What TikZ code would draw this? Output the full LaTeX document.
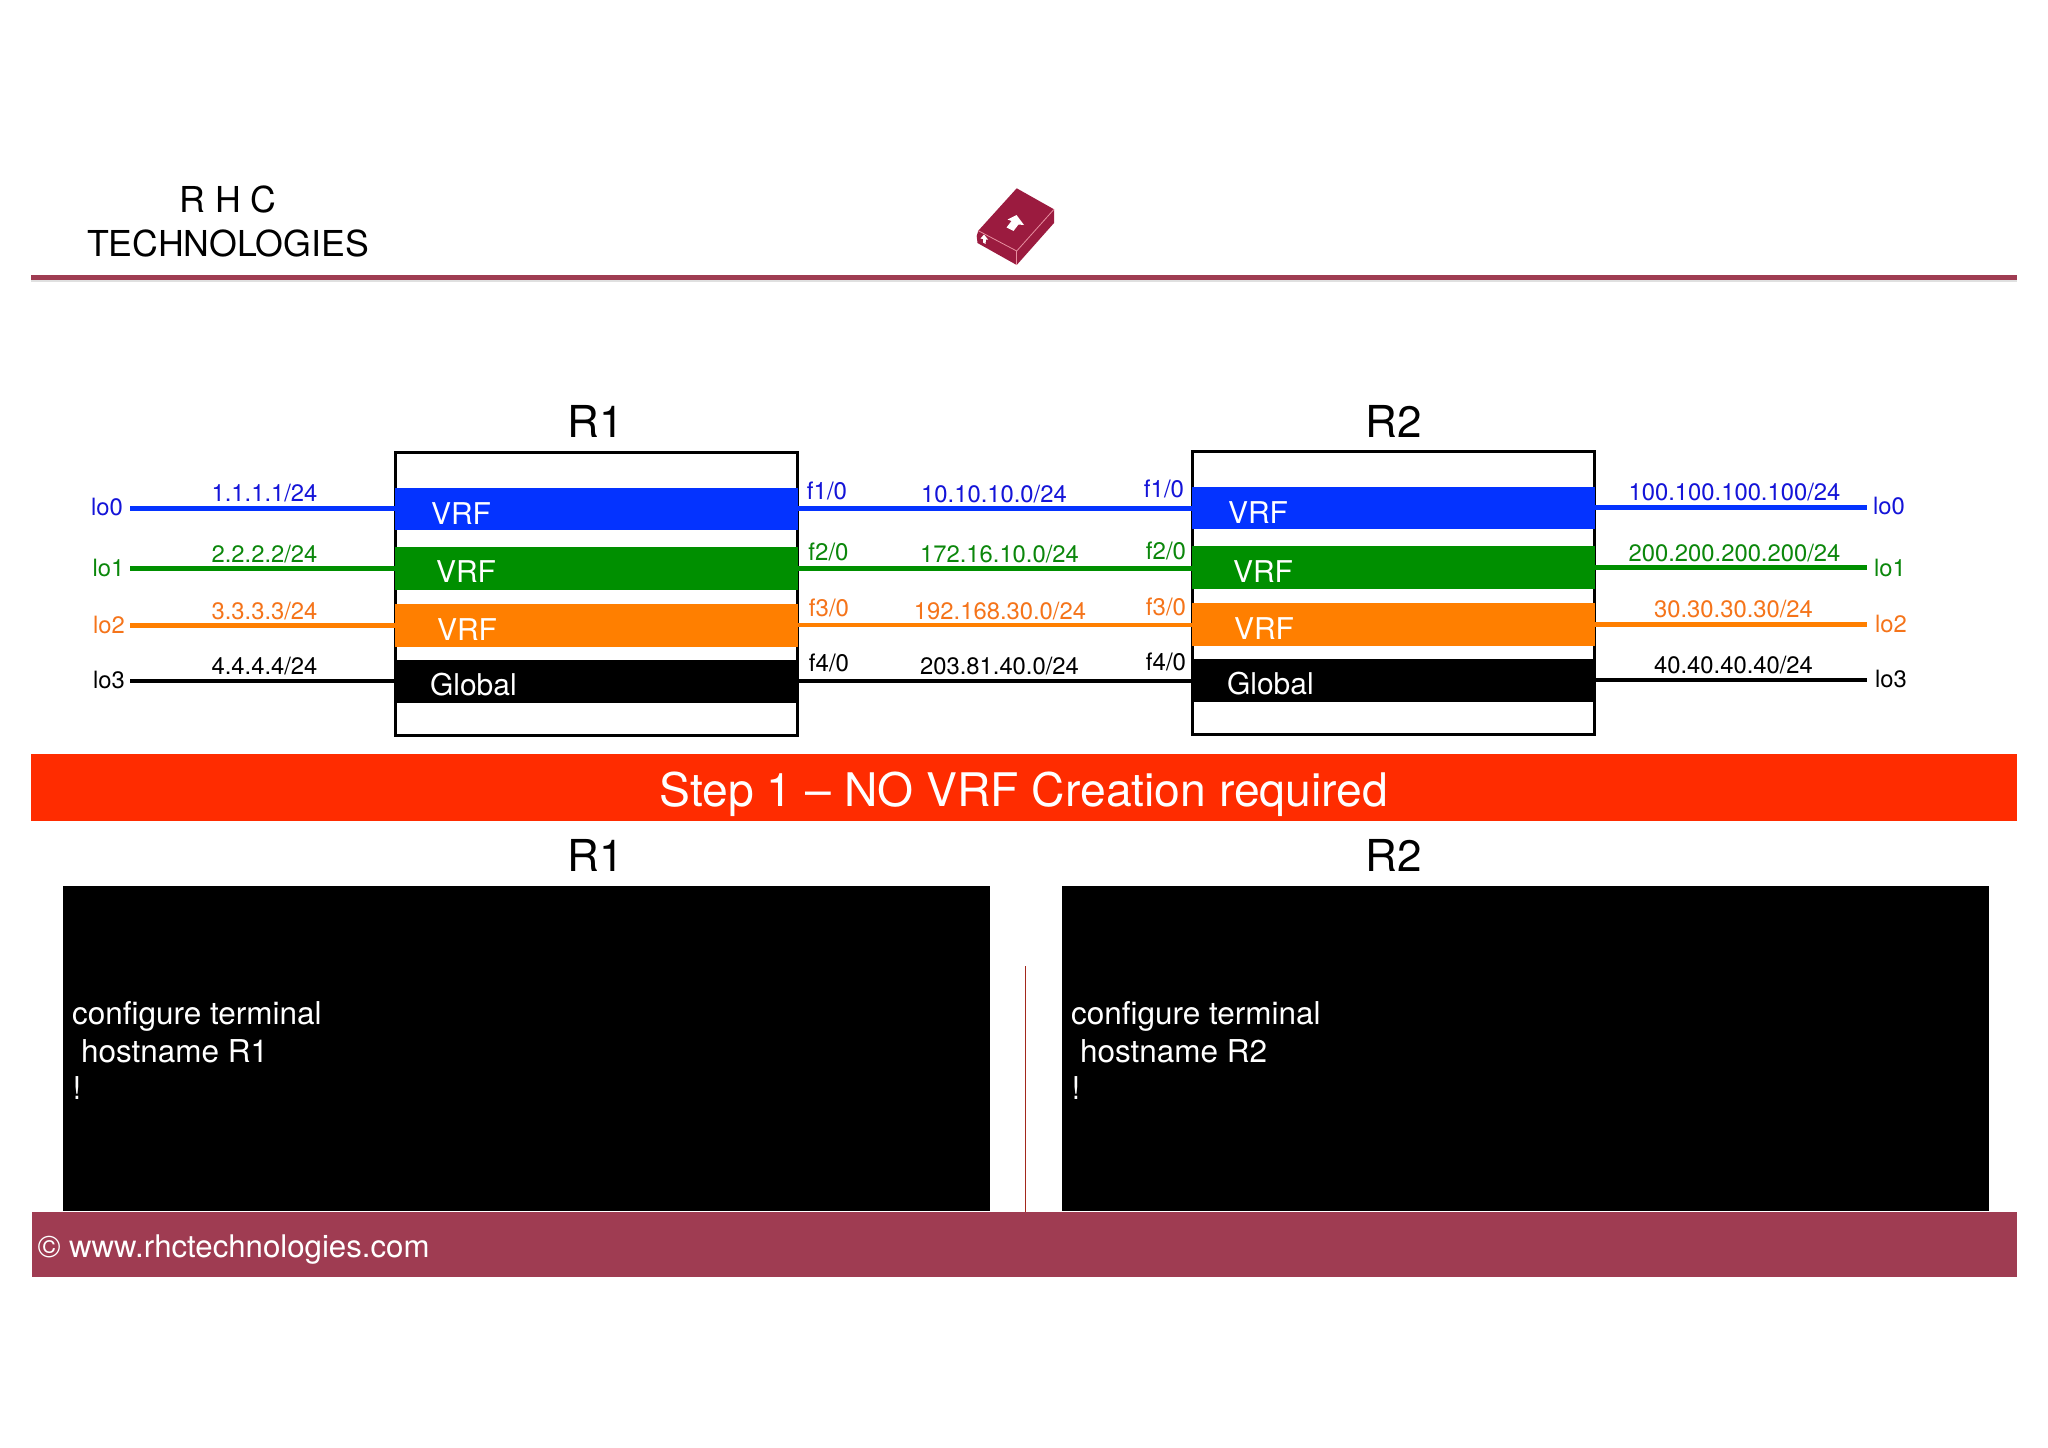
\documentclass[tikz,border=0pt]{standalone}
\usepackage{fontspec}
\setmainfont{TeX Gyre Heros}
\definecolor{cblue}{HTML}{0433FF}
\definecolor{cgreen}{HTML}{008F00}
\definecolor{corange}{HTML}{FF7F00}
\definecolor{tblue}{HTML}{1414D8}
\definecolor{tgreen}{HTML}{0B870B}
\definecolor{torange}{HTML}{F5741A}
\definecolor{cred}{HTML}{FF2C00}
\definecolor{cwine}{HTML}{9F3C52}
\definecolor{cbook}{HTML}{9B1B3F}
\definecolor{cpink}{HTML}{E88FA0}
\definecolor{cdiv}{HTML}{A3281C}
\tikzset{
  txt/.style={inner sep=0pt, outer sep=0pt, font=\fontsize{#1}{#1}\selectfont, text height={0.72*#1pt}, text depth=0pt},
  lab/.style={txt=23.8},
  ifc/.style={txt=24},
  band/.style={fill=#1, draw=none, inner sep=0pt, outer sep=0pt},
  wire/.style={draw=#1, line width=4.5pt, line cap=butt},
  rbox/.style={draw=black, line width=3pt, fill=white, inner sep=0pt, outer sep=0pt},
  term/.style={fill=black, inner sep=0pt, outer sep=0pt},
  bar/.style={fill=#1, inner sep=0pt, outer sep=0pt},
  bandtxt/.style={txt=30, text=white, anchor=west},
  cli/.style={txt=31.5, text=white, anchor=west}
}
\newcommand{\bandnode}[6]{% name colour x1 y1 x2 y2
  \node[band=#2, minimum width={#5pt-#3pt}, minimum height={#6pt-#4pt}, anchor=north west] (#1) at (#3,#4) {};
}
\begin{document}
\begin{tikzpicture}[x=1pt,y=-1pt]
\useasboundingbox (0,0) rectangle (2048,1448);
\fill[white] (0,0) rectangle (2048,1448);

% header
\node[txt=35.7] (rhc) at (228,200) {R H C};
\node[txt=35.7] (tech) at (228,243.5) {TECHNOLOGIES};
\coordinate (ruleL) at (31,277);
\coordinate (ruleR) at (2017,277);
\draw[black!12, line width=2pt] ([yshift=-3.5pt]ruleL) -- ([yshift=-3.5pt]ruleR);
\draw[cwine, line width=5pt] (ruleL) -- (ruleR);

% book logo
\fill[cbook] (1016.7,188.3) -- (1054,209.3) -- (1054,223) -- (1016.7,265) -- (977.5,243) -- (976.7,236) -- (978.3,230.7) -- cycle;
\draw[cpink, line width=0.8pt] (978.3,230.7) -- (1016.7,251) -- (1054,209.3);
\draw[cpink, line width=0.8pt] (1016.7,251) -- (1016.7,265);
\fill[white] (1016.5,215) -- (1024,225) -- (1018.5,224.5) -- (1013.5,231) -- (1006.5,227.5) -- (1011.5,221) -- (1007.5,219.5) -- cycle;
\fill[white] (984,234.5) -- (988,239.5) -- (986,239.5) -- (985.5,244) -- (983,242.5) -- (983,239) -- (980.5,238.5) -- cycle;

% router boxes
\node[rbox, minimum width=402pt, minimum height=282.5pt, anchor=north west] (boxA) at (395.5,452.5) {};
\node[rbox, minimum width=402pt, minimum height=282.5pt, anchor=north west] (boxB) at (1192.5,451.5) {};
\node[txt=44] (titleA) at (596,421.5) {R1};
\node[txt=44] (titleB) at (1393.5,422) {R2};

% R1 bands
\bandnode{aBlue}{cblue}{395}{488}{798}{529.5}
\bandnode{aGreen}{cgreen}{395}{547}{798}{589.5}
\bandnode{aOrange}{corange}{395}{604}{798}{646.5}
\bandnode{aBlack}{black}{395}{660}{798}{702.5}
% R2 bands
\bandnode{bBlue}{cblue}{1191.5}{487}{1595}{528.5}
\bandnode{bGreen}{cgreen}{1191.5}{546}{1595}{588.5}
\bandnode{bOrange}{corange}{1191.5}{603}{1595}{645.5}
\bandnode{bBlack}{black}{1191.5}{659}{1595}{701.5}

\node[bandtxt] (v1) at (431,514) {VRF};
\node[bandtxt] (v2) at (436,572) {VRF};
\node[bandtxt] (v3) at (437,630) {VRF};
\node[bandtxt] (g1) at (430,685) {Global};
\node[bandtxt] (v4) at (1228,513) {VRF};
\node[bandtxt] (v5) at (1233,572) {VRF};
\node[bandtxt] (v6) at (1234,629) {VRF};
\node[bandtxt] (g2) at (1227,684) {Global};

% free ends
\coordinate (lA0) at (130,508.5);
\coordinate (lA1) at (130,568.5);
\coordinate (lA2) at (130,625.5);
\coordinate (lA3) at (130,681);
\coordinate (lB0) at (1867,507.5);
\coordinate (lB1) at (1867,567.5);
\coordinate (lB2) at (1867,624.5);
\coordinate (lB3) at (1867,680);

% connectors
\draw[wire=cblue] (lA0) -- (lA0 -| aBlue.west);
\draw[wire=cgreen] (lA1) -- (lA1 -| aGreen.west);
\draw[wire=corange] (lA2) -- (lA2 -| aOrange.west);
\draw[wire=black] (lA3) -- (lA3 -| aBlack.west);
\draw[wire=cblue] ([yshift=-0.5pt]bBlue.west -| aBlue.east) -- ([yshift=-0.5pt]bBlue.west);
\draw[wire=cgreen] ([yshift=-1pt]bGreen.west -| aGreen.east) -- ([yshift=-1pt]bGreen.west);
\draw[wire=corange] ([yshift=-0.5pt]bOrange.west -| aOrange.east) -- ([yshift=-0.5pt]bOrange.west);
\draw[wire=black] ([yshift=-0.5pt]bBlack.west -| aBlack.east) -- ([yshift=-0.5pt]bBlack.west);
\draw[wire=cblue] (lB0 -| bBlue.east) -- (lB0);
\draw[wire=cgreen] (lB1 -| bGreen.east) -- (lB1);
\draw[wire=corange] (lB2 -| bOrange.east) -- (lB2);
\draw[wire=black] (lB3 -| bBlack.east) -- (lB3);

% left labels
\node[lab, text=tblue] (t1) at (107,507) {lo0};
\node[lab, text=tgreen] (t2) at (108.5,568) {lo1};
\node[lab, text=torange] (t3) at (109,625) {lo2};
\node[lab] (t4) at (109,680) {lo3};
\node[lab, text=tblue] (t5) at (264.5,493) {1.1.1.1/24};
\node[lab, text=tgreen] (t6) at (264.5,553.5) {2.2.2.2/24};
\node[lab, text=torange] (t7) at (264.5,611) {3.3.3.3/24};
\node[lab] (t8) at (264.5,665.5) {4.4.4.4/24};
% interfaces
\node[ifc, text=tblue] (t9) at (827,491) {f1/0};
\node[ifc, text=tgreen] (t10) at (828.5,552) {f2/0};
\node[ifc, text=torange] (t11) at (829,608) {f3/0};
\node[ifc] (t12) at (829,663) {f4/0};
\node[ifc, text=tblue] (t13) at (1164,489) {f1/0};
\node[ifc, text=tgreen] (t14) at (1166,551) {f2/0};
\node[ifc, text=torange] (t15) at (1166,607) {f3/0};
\node[ifc] (t16) at (1166,662) {f4/0};
% middle
\node[lab, text=tblue] (t17) at (994,493.5) {10.10.10.0/24};
\node[lab, text=tgreen] (t18) at (999.5,553.5) {172.16.10.0/24};
\node[lab, text=torange] (t19) at (1000,610.5) {192.168.30.0/24};
\node[lab] (t20) at (999.5,665.5) {203.81.40.0/24};
% right
\node[lab, text=tblue] (t21) at (1734.5,492) {100.100.100.100/24};
\node[lab, text=tgreen] (t22) at (1734.5,553) {200.200.200.200/24};
\node[lab, text=torange] (t23) at (1733.5,609) {30.30.30.30/24};
\node[lab] (t24) at (1733.5,665) {40.40.40.40/24};
\node[lab, text=tblue] (t25) at (1889,505.5) {lo0};
\node[lab, text=tgreen] (t26) at (1890,567.5) {lo1};
\node[lab, text=torange] (t27) at (1891,623.5) {lo2};
\node[lab] (t28) at (1891,678.5) {lo3};

% banner
\node[bar=cred, minimum width=1986pt, minimum height=67pt, anchor=north west] (banner) at (31,753.5) {};
\node[txt=46.3, text=white] (step) at (1024,790) {Step 1 -- NO VRF Creation required};

% lower titles
\node[txt=44] (lowA) at (595.5,855.5) {R1};
\node[txt=44] (lowB) at (1393.5,855.5) {R2};

% terminals
\node[term, minimum width=927.5pt, minimum height=325pt, anchor=north west] (termA) at (62.5,886) {};
\node[term, minimum width=927pt, minimum height=325pt, anchor=north west] (termB) at (1061.5,886) {};
\coordinate (div) at (1025.5,966);

\node[cli] (c1) at (72,1013) {configure terminal};
\node[cli] (c2) at (81,1051) {hostname R1};
\node[cli] (c3) at (72.5,1088) {!};
\node[cli] (c4) at (1071,1013) {configure terminal};
\node[cli] (c5) at (1080,1051) {hostname R2};
\node[cli] (c6) at (1071.5,1088) {!};

% footer
\node[bar=cwine, minimum width=1985pt, minimum height=65.5pt, anchor=north west] (foot) at (32,1211.5) {};
\draw[cdiv, line width=1.5pt] (div) -- (div |- foot.north);
\node[txt=31.2, text=white, anchor=west] (copy) at (37.5,1246.5) {© www.rhctechnologies.com};
\end{tikzpicture}
\end{document}
